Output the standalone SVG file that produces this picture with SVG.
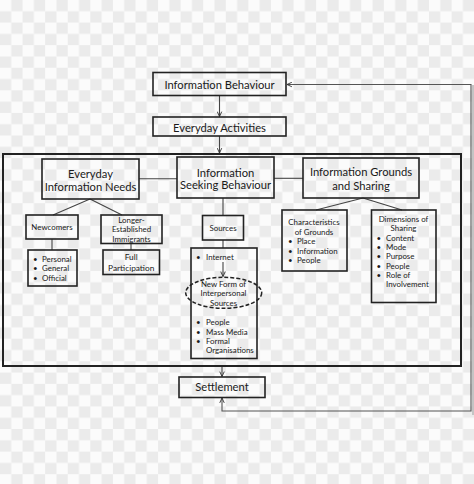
<svg xmlns="http://www.w3.org/2000/svg" width="474" height="484" viewBox="0 0 474 484">
<defs>
<pattern id="chk" x="0" y="0" width="22.58" height="22.58" patternUnits="userSpaceOnUse">
<rect x="0" y="0" width="22.58" height="22.58" fill="#fbfbfb"/>
<rect x="11.29" y="0" width="11.29" height="11.29" fill="#ebebeb"/>
<rect x="0" y="11.29" width="11.29" height="11.29" fill="#ebebeb"/>
</pattern>
<marker id="arr" viewBox="0 0 8 8" refX="7.5" refY="4" markerWidth="6" markerHeight="6" markerUnits="userSpaceOnUse" orient="auto-start-reverse">
<path d="M1,1 L7.5,4 L1,7" fill="none" stroke="#333" stroke-width="1.2"/>
</marker>
<style>
.box{fill:none;stroke:#222;stroke-width:1.6}
.big{fill:none;stroke:#222;stroke-width:2}
.ln{fill:none;stroke:#444;stroke-width:1.1}
.fb{fill:none;stroke:#555;stroke-width:1.1}
text{font-family:Lato,"Liberation Sans",sans-serif;fill:#1a1a1a}
.L{font-size:11.2px;text-anchor:middle}
.S{font-size:7.9px}
.Sc{font-size:7.9px;text-anchor:middle}
.M{font-size:8.3px;text-anchor:middle}
</style>
</defs>
<rect x="0" y="0" width="474" height="484" fill="url(#chk)"/>
<rect x="472" y="85" width="2" height="330" fill="#c4c4c4"/>

<g id="connectors">
<line class="ln" x1="219.5" y1="96" x2="219.5" y2="116.5" marker-end="url(#arr)"/>
<line class="ln" x1="219.5" y1="136" x2="219.5" y2="153" marker-end="url(#arr)"/>
<line class="ln" x1="139" y1="178.7" x2="177" y2="178.7"/>
<line class="ln" x1="274" y1="178.3" x2="303" y2="178.3"/>
<line class="ln" x1="90" y1="199" x2="53" y2="215"/>
<line class="ln" x1="90" y1="199" x2="122" y2="215"/>
<line class="ln" x1="52" y1="239" x2="52" y2="250"/>
<line class="ln" x1="131" y1="243.5" x2="131" y2="250"/>
<line class="ln" x1="223" y1="198" x2="223" y2="215.5"/>
<line class="ln" x1="223" y1="240" x2="223" y2="248"/>
<line class="ln" x1="223" y1="262" x2="223" y2="276.5" marker-end="url(#arr)"/>
<line class="ln" x1="363" y1="198" x2="316" y2="210"/>
<line class="ln" x1="363" y1="198" x2="402" y2="210"/>
<line class="ln" x1="222" y1="366" x2="222" y2="376.5" marker-end="url(#arr)"/>
<path class="fb" d="M287,84.5 H471 V411 H222 V398" marker-start="url(#arr)" marker-end="url(#arr)"/>
</g>

<g id="information-behaviour">
<rect class="box" x="153" y="72.5" width="133" height="23"/>
<text class="L" x="219.5" y="89">Information Behaviour</text>
</g>
<g id="everyday-activities">
<rect class="box" x="153" y="117" width="133" height="19"/>
<text class="L" x="219.5" y="131.5">Everyday Activities</text>
</g>
<g id="context-frame">
<rect class="big" x="3" y="154" width="458" height="212"/>
</g>
<g id="everyday-information-needs">
<rect class="box" x="42" y="159" width="97" height="40"/>
<text class="L" x="90.5" y="178">Everyday</text>
<text class="L" x="90.5" y="190.6">Information Needs</text>
</g>
<g id="information-seeking-behaviour">
<rect class="box" x="177" y="157" width="97" height="41"/>
<text class="L" x="225.5" y="176.6">Information</text>
<text class="L" x="225.5" y="189.2">Seeking Behaviour</text>
</g>
<g id="information-grounds">
<rect class="box" x="303" y="158" width="116" height="40"/>
<text class="L" x="361" y="176">Information Grounds</text>
<text class="L" x="361" y="190">and Sharing</text>
</g>
<g id="newcomers">
<rect class="box" x="26" y="215" width="52" height="24"/>
<text class="Sc" x="52" y="229.8">Newcomers</text>
</g>
<g id="longer-established">
<rect class="box" x="101" y="215" width="61" height="28.5"/>
<text class="Sc" x="131.5" y="222.5">Longer-</text>
<text class="Sc" x="131.5" y="232.1">Established</text>
<text class="Sc" x="131.5" y="241.8">Immigrants</text>
</g>
<g id="newcomer-needs">
<rect class="box" x="28" y="250" width="49" height="36"/>
<text class="S" x="33" y="261.5">•</text><text class="S" x="42" y="261.5">Personal</text>
<text class="S" x="33" y="271.1">•</text><text class="S" x="42" y="271.1">General</text>
<text class="S" x="33" y="280.5">•</text><text class="S" x="42" y="280.5">Official</text>
</g>
<g id="full-participation">
<rect class="box" x="103" y="250" width="56.5" height="24.5"/>
<text class="M" x="131.2" y="260.1">Full</text>
<text class="M" x="131.2" y="270.9">Participation</text>
</g>
<g id="sources">
<rect class="box" x="202.5" y="215.5" width="41" height="24.5"/>
<text class="Sc" x="223" y="230.5">Sources</text>
</g>
<g id="sources-list">
<rect class="box" x="191" y="248" width="66" height="110.5"/>
<text class="S" x="196" y="259.5">•</text><text class="S" x="206" y="259.5">Internet</text>
<text class="S" x="196" y="325.1">•</text><text class="S" x="206" y="325.1">People</text>
<text class="S" x="196" y="334.5">•</text><text class="S" x="206" y="334.5">Mass Media</text>
<text class="S" x="196" y="343.8">•</text><text class="S" x="206" y="343.8">Formal</text>
<text class="S" x="206" y="353.1">Organisations</text>
</g>
<g id="new-form">
<ellipse cx="223.7" cy="292.8" rx="38" ry="15.5" fill="none" stroke="#222" stroke-width="1.5" stroke-dasharray="4 2"/>
<text class="Sc" x="223.5" y="287.1">New Form of</text>
<text class="Sc" x="223.5" y="296.1">Interpersonal</text>
<text class="Sc" x="223.5" y="305.5">Sources</text>
</g>
<g id="characteristics">
<rect class="box" x="282" y="210" width="65" height="61"/>
<text class="Sc" x="314" y="225.1">Characteristics</text>
<text class="Sc" x="314" y="234.5">of  Grounds</text>
<text class="S" x="288" y="244.1">•</text><text class="S" x="297" y="244.1">Place</text>
<text class="S" x="288" y="253.5">•</text><text class="S" x="297" y="253.5">Information</text>
<text class="S" x="288" y="262.8">•</text><text class="S" x="297" y="262.8">People</text>
</g>
<g id="dimensions">
<rect class="box" x="371.5" y="210" width="64.5" height="92.5"/>
<text class="Sc" x="403.5" y="221.5">Dimensions of</text>
<text class="Sc" x="403.5" y="231.1">Sharing</text>
<text class="S" x="376.5" y="240.5">•</text><text class="S" x="386" y="240.5">Content</text>
<text class="S" x="376.5" y="249.8">•</text><text class="S" x="386" y="249.8">Mode</text>
<text class="S" x="376.5" y="259.1">•</text><text class="S" x="386" y="259.1">Purpose</text>
<text class="S" x="376.5" y="268.5">•</text><text class="S" x="386" y="268.5">People</text>
<text class="S" x="376.5" y="277.8">•</text><text class="S" x="386" y="277.8">Role of</text>
<text class="S" x="386" y="287.1">Involvement</text>
</g>
<g id="settlement">
<rect class="box" x="179" y="377" width="86" height="20.5"/>
<text class="L" x="222" y="391.2">Settlement</text>
</g>
</svg>
